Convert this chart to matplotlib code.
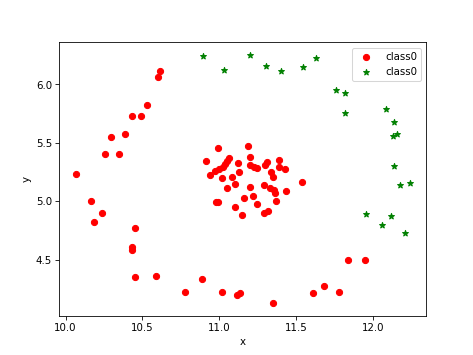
import matplotlib
matplotlib.use("Agg")
from matplotlib import pyplot as plt

# red points: outer ring
ring_x = [10.618, 10.599, 10.527, 10.488, 10.434, 10.386, 10.295, 10.347, 10.256,
          10.067, 10.165, 10.239, 10.184, 10.449, 10.434, 10.434, 10.449, 10.590,
          10.777, 10.887, 11.018, 11.118, 11.139, 11.350, 11.613, 11.680, 11.779,
          11.836, 11.947]
ring_y = [6.117, 6.063, 5.823, 5.731, 5.731, 5.574, 5.554, 5.403, 5.403,
          5.229, 5.003, 4.897, 4.820, 4.769, 4.608, 4.578, 4.349, 4.357,
          4.218, 4.332, 4.218, 4.197, 4.209, 4.123, 4.212, 4.269, 4.220,
          4.492, 4.497]

# red points: inner blob
blob_x = [10.990, 11.187, 10.916, 11.198, 11.063, 11.053, 11.040, 11.024, 10.996,
          10.975, 11.122, 11.198, 11.226, 11.248, 10.938, 11.020, 11.085, 11.128,
          11.048, 11.100, 11.198, 11.219, 11.165, 10.982, 10.990, 11.100, 11.148,
          11.245, 11.296, 11.313, 11.389, 11.393, 11.426, 11.335, 11.350, 11.541,
          11.291, 11.328, 11.356, 11.365, 11.437, 11.372, 11.289, 11.317]
blob_y = [5.452, 5.471, 5.348, 5.380, 5.371, 5.343, 5.315, 5.294, 5.272,
          5.260, 5.328, 5.314, 5.291, 5.280, 5.223, 5.195, 5.208, 5.246,
          5.117, 5.143, 5.123, 5.045, 5.023, 4.997, 4.997, 4.951, 4.880,
          4.980, 5.308, 5.337, 5.351, 5.294, 5.272, 5.246, 5.203, 5.165,
          5.137, 5.109, 5.094, 5.066, 5.088, 5.000, 4.897, 4.917]

# green stars
star_x = [10.898, 11.029, 11.198, 11.307, 11.400, 11.549, 11.630, 11.762, 11.818,
          11.818, 12.088, 12.140, 12.131, 12.161, 12.140, 12.179, 12.240, 11.958,
          12.122, 12.059, 12.209]
star_y = [6.243, 6.120, 6.254, 6.159, 6.114, 6.154, 6.228, 5.951, 5.931,
          5.754, 5.791, 5.677, 5.560, 5.572, 5.302, 5.137, 5.157, 4.886,
          4.877, 4.792, 4.726]

red_x = ring_x + blob_x
red_y = ring_y + blob_y

fig = plt.figure(figsize=(6.4, 4.8), dpi=74)
plt.scatter(red_x, red_y, c='red', marker='o', label='class0')
plt.scatter(star_x, star_y, c='green', marker='*', label='class0')
plt.xlabel("x")
plt.ylabel("y")
plt.legend()
plt.savefig("out.png", dpi=74)
